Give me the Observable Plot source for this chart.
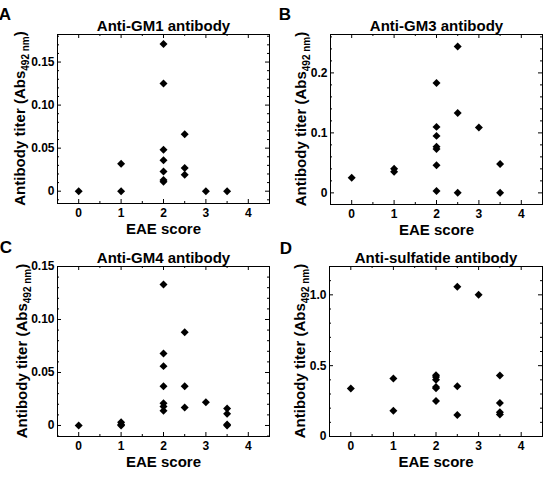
<!DOCTYPE html>
<html>
<head>
<meta charset="utf-8">
<script src="https://cdn.jsdelivr.net/npm/d3@7"></script>
<script src="https://cdn.jsdelivr.net/npm/@observablehq/plot@0.6"></script>
<style>
  body { margin: 0; background: #fff; }
  #root { position: relative; width: 550px; height: 477px; overflow: hidden; }
  .panel { position: absolute; }
</style>
</head>
<body>
<div id="root"></div>
<script>
// ---- Shared x axis ----
const xMajor = [0, 1, 2, 3, 4];
const xLabels = ["0", "1", "2", "3", "4"];
const xMinor = [0.5, 1.5, 2.5, 3.5];

// ---- Panel A: Anti-GM1 ----
const gm1X = [0, 1, 1, 2, 2, 2, 2, 2, 2, 2, 2.5, 2.5, 2.5, 3, 3.5];
const gm1Y = [0, 0.032, 0, 0.171, 0.125, 0.048, 0.036, 0.023, 0.013, 0.011, 0.066, 0.027, 0.019, 0, 0];
const gm1Ticks = [0, 0.05, 0.10, 0.15];
const gm1Labels = ["0", "0.05", "0.10", "0.15"];

// ---- Panel B: Anti-GM3 ----
const gm3X = [0, 1, 1, 2, 2, 2, 2, 2, 2, 2, 2.5, 2.5, 2.5, 3, 3.5, 3.5];
const gm3Y = [0.025, 0.040, 0.035, 0.183, 0.110, 0.095, 0.077, 0.073, 0.046, 0.003, 0.244, 0.133, 0, 0.109, 0.048, 0];
const gm3Ticks = [0, 0.1, 0.2];
const gm3Labels = ["0", "0.1", "0.2"];

// ---- Panel C: Anti-GM4 ----
const gm4X = [0, 1, 1, 1, 2, 2, 2, 2, 2, 2, 2, 2.5, 2.5, 2.5, 3, 3.5, 3.5, 3.5, 3.5];
const gm4Y = [0, 0.003, 0.001, 0, 0.133, 0.068, 0.056, 0.037, 0.021, 0.018, 0.014, 0.088, 0.037, 0.017, 0.022, 0.016, 0.011, 0.001, 0];
const gm4Ticks = [0, 0.05, 0.10, 0.15];
const gm4Labels = ["0", "0.05", "0.10", "0.15"];

// ---- Panel D: Anti-sulfatide ----
const sulX = [0, 1, 1, 2, 2, 2, 2, 2, 2, 2.5, 2.5, 2.5, 3, 3.5, 3.5, 3.5, 3.5];
const sulY = [0.338, 0.41, 0.182, 0.433, 0.42, 0.40, 0.35, 0.34, 0.25, 1.057, 0.355, 0.152, 1.0, 0.43, 0.236, 0.172, 0.155];
const sulTicks = [0, 0.5, 1.0];
const sulLabels = ["0", "0.5", "1.0"];

const titles = ["Anti-GM1 antibody", "Anti-GM3 antibody", "Anti-GM4 antibody", "Anti-sulfatide antibody"];
const letters = ["A", "B", "C", "D"];
const xTitle = "EAE score";

const FONT = "'Liberation Sans', Arial, Helvetica, sans-serif";

function range(a, b, step) {
  const out = [];
  const n = Math.round((b - a) / step);
  for (let i = 0; i <= n; i++) out.push(+(a + i * step).toFixed(6));
  return out;
}

function panel(cfg) {
  const W = 275, H = 240;
  const { left, top, ml, mr, mt, mb, yDomain, yTicks, yLabels, yMinorStep, xs, ys, title, letter, ylabX, letX, letY } = cfg;
  const fw = W - ml - mr, fh = H - mt - mb;
  const data = xs.map((v, i) => ({ x: v, y: ys[i] }));
  const yMinor = range(Math.ceil(yDomain[0] / yMinorStep) * yMinorStep, yDomain[1], yMinorStep)
    .filter(v => v > yDomain[0] && v < yDomain[1] && !yTicks.some(t => Math.abs(t - v) < 1e-9));
  const maj = 4, mnr = 2;
  const svg = Plot.plot({
    width: W, height: H,
    marginLeft: ml, marginRight: mr, marginTop: mt, marginBottom: mb,
    x: { domain: [-0.5, 4.5] },
    y: { domain: yDomain },
    style: { fontFamily: FONT, fontWeight: "bold", fontSize: "12px", color: "black", background: "transparent", overflow: "visible" },
    marks: [
      // inside ticks, all four sides
      Plot.tickY(yTicks, { y: d => d, insetRight: fw - maj, stroke: "black" }),
      Plot.tickY(yTicks, { y: d => d, insetLeft: fw - maj, stroke: "black" }),
      Plot.tickY(yMinor, { y: d => d, insetRight: fw - mnr, stroke: "black" }),
      Plot.tickY(yMinor, { y: d => d, insetLeft: fw - mnr, stroke: "black" }),
      Plot.tickX(xMajor, { x: d => d, insetTop: fh - maj, stroke: "black" }),
      Plot.tickX(xMajor, { x: d => d, insetBottom: fh - maj, stroke: "black" }),
      Plot.tickX(xMinor, { x: d => d, insetTop: fh - mnr, stroke: "black" }),
      Plot.tickX(xMinor, { x: d => d, insetBottom: fh - mnr, stroke: "black" }),
      Plot.axisX({ ticks: xMajor, tickFormat: d => xLabels[xMajor.indexOf(d)], tickSize: 0, tickPadding: 5, label: null, fontSize: 12 }),
      Plot.axisY({ ticks: yTicks, tickFormat: d => yLabels[yTicks.indexOf(d)], tickSize: 0, tickPadding: 3, label: null, fontSize: 12 }),
      Plot.frame({ stroke: "black" }),
      Plot.dot(data, { x: "x", y: "y", symbol: "diamond2", r: 3.6, fill: "black", stroke: "none" }),
      Plot.text([title], { text: d => d, frameAnchor: "top", lineAnchor: "bottom", dy: -4, fontSize: 15 }),
      Plot.text([xTitle], { text: d => d, frameAnchor: "bottom", lineAnchor: "middle", dy: 26, fontSize: 15 })
    ]
  });
  const s = d3.select(svg);
  const lab = s.append("text")
    .attr("transform", `translate(${ylabX},${mt + fh / 2}) rotate(-90)`)
    .attr("text-anchor", "middle")
    .attr("fill", "black")
    .style("font-size", "15px").style("font-weight", "bold").style("font-family", FONT);
  lab.append("tspan").text("Antibody titer (Abs");
  lab.append("tspan").attr("dy", 4).style("font-size", "10px").text("492 nm");
  lab.append("tspan").attr("dy", -4).text(")");
  s.append("text")
    .attr("x", letX).attr("y", letY)
    .attr("fill", "black")
    .style("font-size", "17px").style("font-weight", "bold").style("font-family", FONT)
    .text(letter);
  const div = document.createElement("div");
  div.className = "panel";
  div.style.left = left + "px";
  div.style.top = top + "px";
  div.appendChild(svg);
  document.getElementById("root").appendChild(div);
}

panel({ left: 0, top: 0, ml: 57, mr: 6, mt: 34, mb: 37, yDomain: [-0.0143, 0.182], yTicks: gm1Ticks, yLabels: gm1Labels, yMinorStep: 0.01,
  xs: gm1X, ys: gm1Y, title: titles[0], letter: letters[0], ylabX: 25, letX: 5, letY: 20 });
panel({ left: 275, top: 0, ml: 55, mr: 8, mt: 34, mb: 36, yDomain: [-0.0194, 0.264], yTicks: gm3Ticks, yLabels: gm3Labels, yMinorStep: 0.02,
  xs: gm3X, ys: gm3Y, title: titles[1], letter: letters[1], ylabX: 31, letX: 10, letY: 20 });
panel({ left: 0, top: 237, ml: 57, mr: 6, mt: 29, mb: 41, yDomain: [-0.0104, 0.15], yTicks: gm4Ticks, yLabels: gm4Labels, yMinorStep: 0.01,
  xs: gm4X, ys: gm4Y, title: titles[2], letter: letters[2], ylabX: 27, letX: 6, letY: 16 });
panel({ left: 275, top: 237, ml: 54, mr: 8, mt: 29, mb: 41, yDomain: [0, 1.2], yTicks: sulTicks, yLabels: sulLabels, yMinorStep: 0.1,
  xs: sulX, ys: sulY, title: titles[3], letter: letters[3], ylabX: 30, letX: 11, letY: 17 });
</script>
</body>
</html>
